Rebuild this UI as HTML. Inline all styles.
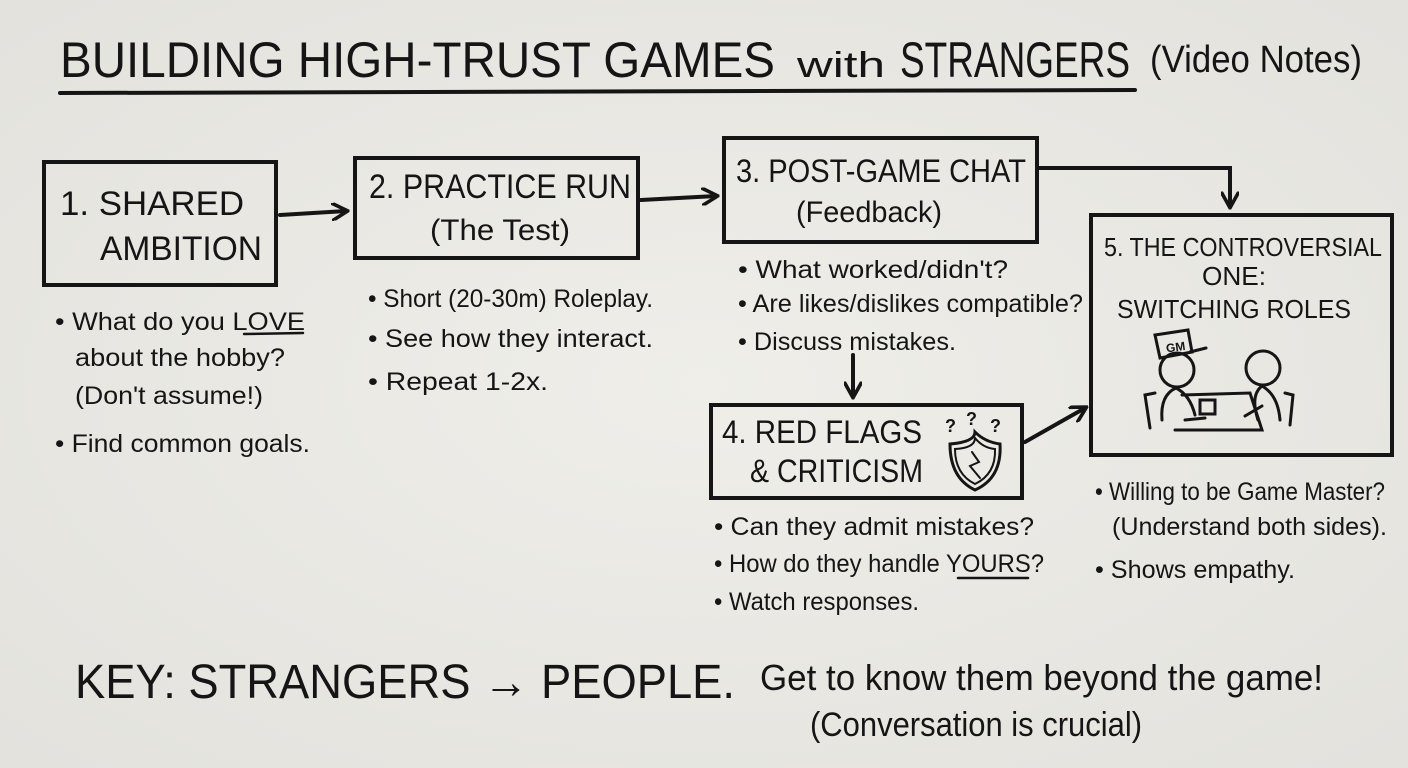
<!DOCTYPE html>
<html><head><meta charset="utf-8"><style>
html,body{margin:0;padding:0;background:#ebeae5;}
svg{display:block}
text{font-family:"Liberation Sans",sans-serif;fill:#151515}
</style></head><body>
<svg width="1408" height="768" viewBox="0 0 1408 768" xmlns="http://www.w3.org/2000/svg">
<defs>
<radialGradient id="bg" cx="50%" cy="50%" r="75%"><stop offset="0" stop-color="#efeee9"/><stop offset="1" stop-color="#e2e1dc"/></radialGradient>
<marker id="ah2" viewBox="0 0 10 10" markerWidth="18" markerHeight="18" refX="8" refY="5" orient="auto" markerUnits="userSpaceOnUse"><path d="M0,0 L9,5 L0,10" fill="none" stroke="#151515" stroke-width="2"/></marker>
</defs>
<rect width="1408" height="768" fill="url(#bg)"/>
<g stroke="#151515" stroke-width="4" fill="none" stroke-linecap="round">
<line x1="60" y1="93" x2="1135" y2="90"/>
<rect x="44" y="162" width="232" height="123"/>
<rect x="355" y="158" width="283" height="100"/>
<rect x="724" y="138" width="313" height="104"/>
<rect x="1091" y="215" width="301" height="240"/>
<rect x="711" y="405" width="311" height="93"/>
<line x1="280" y1="215" x2="346" y2="211" marker-end="url(#ah2)"/>
<line x1="641" y1="200" x2="716" y2="196" marker-end="url(#ah2)"/>
<polyline points="1038,168 1230,168 1230,206" marker-end="url(#ah2)"/>
<line x1="853" y1="355" x2="853" y2="396" marker-end="url(#ah2)"/>
<line x1="1025" y1="442" x2="1085" y2="408" marker-end="url(#ah2)"/>
</g>
<g stroke="#151515" stroke-width="3" fill="none" stroke-linecap="round">
<line x1="244" y1="334" x2="303" y2="333" stroke-width="2.5"/>
<line x1="958" y1="578" x2="1028" y2="578" stroke-width="2.5"/>
<!-- GM figure -->
<circle cx="1177" cy="370" r="17"/>
<circle cx="1263" cy="368" r="17"/>
<path d="M1155,335 L1188,330 L1192,352 L1160,358 Z"/>
<line x1="1190" y1="352" x2="1206" y2="348"/>
<path d="M1162,420 Q1160,395 1176,388 Q1190,395 1195,415"/>
<path d="M1150,428 L1145,395 L1155,393"/>
<path d="M1258,420 Q1250,395 1262,386 Q1278,395 1280,420"/>
<path d="M1290,425 L1293,395 L1285,393"/>
<path d="M1182,395 L1250,393 L1262,430 L1175,430"/>
<rect x="1200" y="400" width="15" height="14"/>
<path d="M1185,420 L1205,418"/>
<path d="M1245,416 L1262,406"/>
<!-- shield -->
<path d="M950,444 Q975,442 975,432 Q985,442 1000,444 Q1002,478 975,490 Q950,478 950,444 Z"/>
<path d="M955,449 Q975,448 975,438 Q983,448 995,449 Q996,474 975,484 Q955,474 955,449 Z" stroke-width="2"/>
<path d="M972,452 L979,462 L970,466 L980,478" stroke-width="2"/>
</g>
<g font-size="18" font-weight="bold"><text x="945" y="432">?</text><text x="966" y="425">?</text><text x="990" y="432">?</text></g>
<text x="1166" y="352" font-size="12" font-weight="bold" transform="rotate(-8 1170 348)">GM</text>

<text x="60" y="77" font-size="50" textLength="715" lengthAdjust="spacingAndGlyphs">BUILDING HIGH-TRUST GAMES</text>
<text x="797" y="77" font-size="36" textLength="88" lengthAdjust="spacingAndGlyphs">with</text>
<text x="900" y="77" font-size="50" textLength="230" lengthAdjust="spacingAndGlyphs">STRANGERS</text>
<text x="1150" y="72" font-size="38" textLength="212" lengthAdjust="spacingAndGlyphs">(Video Notes)</text>

<g font-size="34">
<text x="60" y="215" textLength="184" lengthAdjust="spacingAndGlyphs">1. SHARED</text>
<text x="100" y="260" textLength="162" lengthAdjust="spacingAndGlyphs">AMBITION</text>
<text x="369" y="198" textLength="262" lengthAdjust="spacingAndGlyphs">2. PRACTICE RUN</text>
<text x="430" y="240" font-size="30" textLength="140" lengthAdjust="spacingAndGlyphs">(The Test)</text>
<text x="736" y="182" font-size="32" textLength="290" lengthAdjust="spacingAndGlyphs">3. POST-GAME CHAT</text>
<text x="796" y="222" font-size="30" textLength="146" lengthAdjust="spacingAndGlyphs">(Feedback)</text>
<text x="722" y="443" font-size="32" textLength="200" lengthAdjust="spacingAndGlyphs">4. RED FLAGS</text>
<text x="750" y="482" font-size="32" textLength="173" lengthAdjust="spacingAndGlyphs">&amp; CRITICISM</text>
<text x="1104" y="256" font-size="26" textLength="278" lengthAdjust="spacingAndGlyphs">5. THE CONTROVERSIAL</text>
<text x="1202" y="285" font-size="26" textLength="64" lengthAdjust="spacingAndGlyphs">ONE:</text>
<text x="1117" y="318" font-size="26" textLength="234" lengthAdjust="spacingAndGlyphs">SWITCHING ROLES</text>
</g>

<g font-size="25">
<text x="55" y="330" textLength="250" lengthAdjust="spacingAndGlyphs">• What do you LOVE</text>
<text x="75" y="366" textLength="210" lengthAdjust="spacingAndGlyphs">about the hobby?</text>
<text x="75" y="404" textLength="188" lengthAdjust="spacingAndGlyphs">(Don't assume!)</text>
<text x="55" y="452" textLength="255" lengthAdjust="spacingAndGlyphs">• Find common goals.</text>
<text x="368" y="307" textLength="285" lengthAdjust="spacingAndGlyphs">• Short (20-30m) Roleplay.</text>
<text x="368" y="347" textLength="285" lengthAdjust="spacingAndGlyphs">• See how they interact.</text>
<text x="368" y="390" textLength="180" lengthAdjust="spacingAndGlyphs">• Repeat 1-2x.</text>
<text x="738" y="278" textLength="270" lengthAdjust="spacingAndGlyphs">• What worked/didn't?</text>
<text x="738" y="312" textLength="345" lengthAdjust="spacingAndGlyphs">• Are likes/dislikes compatible?</text>
<text x="738" y="350" textLength="218" lengthAdjust="spacingAndGlyphs">• Discuss mistakes.</text>
<text x="714" y="535" textLength="320" lengthAdjust="spacingAndGlyphs">• Can they admit mistakes?</text>
<text x="714" y="572" textLength="330" lengthAdjust="spacingAndGlyphs">• How do they handle YOURS?</text>
<text x="714" y="610" textLength="205" lengthAdjust="spacingAndGlyphs">• Watch responses.</text>
<text x="1095" y="500" textLength="290" lengthAdjust="spacingAndGlyphs">• Willing to be Game Master?</text>
<text x="1112" y="535" textLength="275" lengthAdjust="spacingAndGlyphs">(Understand both sides).</text>
<text x="1095" y="578" textLength="200" lengthAdjust="spacingAndGlyphs">• Shows empathy.</text>
</g>

<text x="75" y="698" font-size="48" textLength="660" lengthAdjust="spacingAndGlyphs">KEY: STRANGERS → PEOPLE.</text>
<text x="760" y="690" font-size="36" textLength="563" lengthAdjust="spacingAndGlyphs">Get to know them beyond the game!</text>
<text x="810" y="736" font-size="34" textLength="332" lengthAdjust="spacingAndGlyphs">(Conversation is crucial)</text>
</svg>
</body></html>
